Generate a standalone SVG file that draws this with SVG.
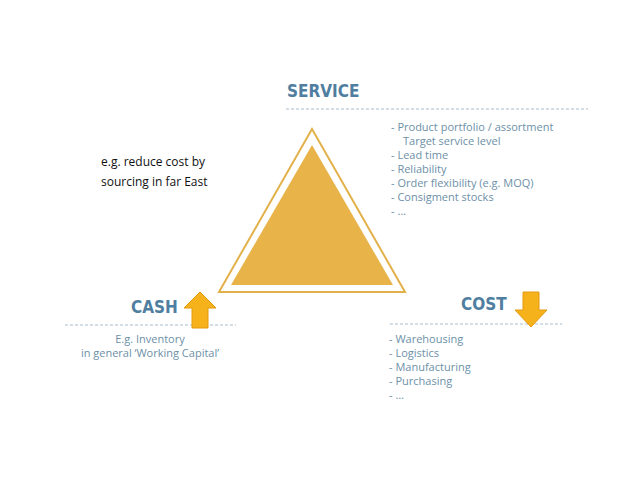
<svg xmlns="http://www.w3.org/2000/svg" width="638" height="493" viewBox="0 0 638 493">
<style>
.t{font-family:"DejaVu Sans Condensed","Liberation Sans Narrow",sans-serif;font-weight:bold;font-size:17px;fill:#4f7ea0}
.b{font-family:"Open Sans","Liberation Sans",sans-serif;font-size:11px;fill:#6d90a8}
.k{font-family:"Open Sans","Liberation Sans",sans-serif;font-size:12px;fill:#111}
.d{stroke:#a9bccb;stroke-width:1;stroke-dasharray:3,2}
.arr{fill:#f6b21b;stroke:#e39a10;stroke-width:1}
</style>
<rect width="638" height="493" fill="#fff"/>
<g id="triangle">
<polygon points="312,129 219,292 405,292" fill="#fff" stroke="#e3b14a" stroke-width="2"/>
<polygon points="312,145 231,285 393,285" fill="#e8b44a"/>
</g>
<g id="service">
<text class="t" x="287" y="97">SERVICE</text>
<line class="d" x1="286" y1="109" x2="588" y2="109"/>
<text class="b" x="391" y="131">-  Product portfolio / assortment</text>
<text class="b" x="403" y="145">Target service level</text>
<text class="b" x="391" y="159">-  Lead time</text>
<text class="b" x="391" y="173">-  Reliability</text>
<text class="b" x="391" y="187">-  Order flexibility (e.g. MOQ)</text>
<text class="b" x="391" y="201">-  Consigment stocks</text>
<text class="b" x="391" y="215">-  …</text>
</g>
<g id="note">
<text class="k" x="101" y="166">e.g. reduce cost by</text>
<text class="k" x="101" y="186">sourcing in far East</text>
</g>
<g id="cash">
<text class="t" x="131" y="313">CASH</text>
<line class="d" x1="65" y1="325" x2="236" y2="325"/>
<text class="b" x="150" y="343" text-anchor="middle">E.g. Inventory</text>
<text class="b" x="150" y="357" text-anchor="middle">in general ‘Working Capital’</text>
<polygon class="arr" points="200,292 184,308 192,308 192,328 208,328 208,308 216,308"/>
</g>
<g id="cost">
<text class="t" x="461" y="310">COST</text>
<line class="d" x1="390" y1="324" x2="562" y2="324"/>
<text class="b" x="389" y="343">-  Warehousing</text>
<text class="b" x="389" y="357">-  Logistics</text>
<text class="b" x="389" y="371">-  Manufacturing</text>
<text class="b" x="389" y="385">-  Purchasing</text>
<text class="b" x="389" y="399">-  …</text>
<polygon class="arr" points="523,292 539,292 539,310 547,310 531,327 515,310 523,310"/>
</g>
<g id="connectors"/>
</svg>
